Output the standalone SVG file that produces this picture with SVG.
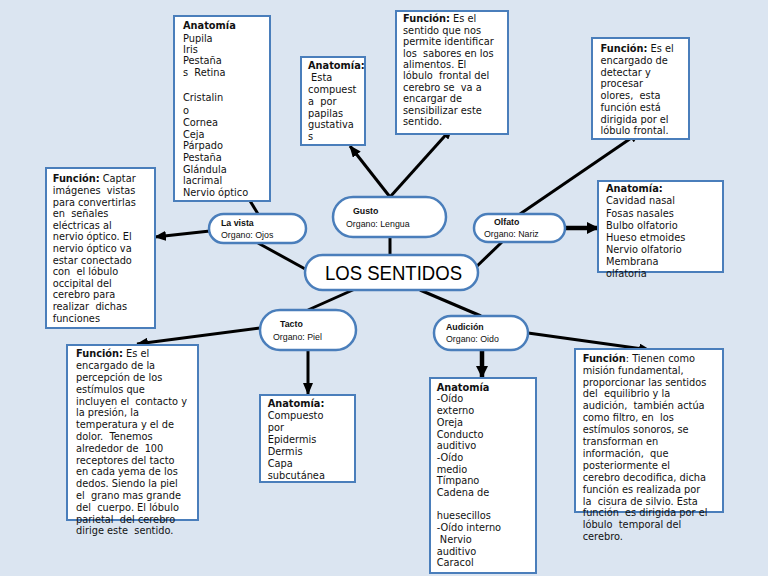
<svg xmlns="http://www.w3.org/2000/svg" width="768" height="576" viewBox="0 0 768 576" xml:space="preserve">
<style>
.bg{fill:#dbe5f1}
.box{fill:#ffffff;stroke:#4a7ebb;stroke-width:2}
.pill{fill:#ffffff;stroke:#4a7ebb;stroke-width:2.5}
.t{font-family:"DejaVu Sans",Verdana,sans-serif;font-size:9.8px;fill:#111;white-space:pre}
.b{font-weight:bold}
.pt{font-family:"Liberation Sans",Arial,sans-serif;font-size:8.8px;fill:#111}
.pb{font-family:"Liberation Sans",Arial,sans-serif;font-size:8.8px;font-weight:bold;fill:#111}
.c{stroke:#000;stroke-width:3;fill:none}
.ck{stroke:#000;stroke-width:4.5;fill:none}
</style>
<defs>
<marker id="ah" markerUnits="userSpaceOnUse" markerWidth="12" markerHeight="10" refX="11" refY="5" orient="auto">
<path d="M0,0 L12,5 L0,10 Z" fill="#000"/>
</marker>
<marker id="ahk" markerUnits="userSpaceOnUse" markerWidth="12" markerHeight="12" refX="11" refY="6" orient="auto">
<path d="M0,0 L12,6 L0,12 Z" fill="#000"/>
</marker>
</defs>
<rect class="bg" x="0" y="0" width="768" height="576"/>
<g id="connectors">
<line class="c" x1="258" y1="243" x2="307" y2="270"/>
<line class="c" x1="258" y1="214" x2="225" y2="160" marker-end="url(#ah)"/>
<line class="c" x1="210" y1="231" x2="155" y2="237" marker-end="url(#ah)"/>
<line class="c" x1="390" y1="236" x2="390" y2="255"/>
<line class="c" x1="390" y1="197" x2="350" y2="146" marker-end="url(#ah)"/>
<line class="c" x1="390" y1="197" x2="452" y2="128" marker-end="url(#ah)"/>
<line class="c" x1="474" y1="269" x2="502" y2="242"/>
<line class="c" x1="520" y1="214" x2="640" y2="132" marker-end="url(#ah)"/>
<line class="ck" x1="564" y1="228" x2="598" y2="228" marker-end="url(#ahk)"/>
<line class="c" x1="355" y1="289" x2="308" y2="310"/>
<line class="c" x1="260" y1="328" x2="137" y2="344" marker-end="url(#ah)"/>
<line class="c" x1="308" y1="351" x2="308" y2="394" marker-end="url(#ah)"/>
<line class="c" x1="420" y1="290" x2="481" y2="316"/>
<line class="ck" x1="482" y1="349" x2="482" y2="377" marker-end="url(#ahk)"/>
<line class="c" x1="528" y1="333" x2="650" y2="350" marker-end="url(#ah)"/>
</g>
<g id="vista-anatomia">
<rect class="box" x="174" y="16" width="96" height="185"/>
<text class="t"><tspan class="b" x="183" y="29">Anatomía</tspan><tspan x="183" y="41.7">Pupila</tspan><tspan x="183" y="52.9">Iris</tspan><tspan x="183" y="64.3">Pestaña</tspan><tspan x="183" y="76">s  Retina</tspan><tspan x="183" y="100.7">Cristalin</tspan><tspan x="183" y="113.5">o</tspan><tspan x="183" y="126">Cornea</tspan><tspan x="183" y="137.7">Ceja</tspan><tspan x="183" y="149.2">Párpado</tspan><tspan x="183" y="161">Pestaña</tspan><tspan x="183" y="172.7">Glándula</tspan><tspan x="183" y="184.3">lacrimal</tspan><tspan x="183" y="196">Nervio óptico</tspan></text>
</g>
<g id="gusto-anatomia">
<rect class="box" x="301" y="57" width="64" height="88"/>
<text class="t"><tspan class="b" x="308" y="68.7">Anatomía:</tspan><tspan x="308" y="81.2"> Esta</tspan><tspan x="308" y="93">compuest</tspan><tspan x="308" y="105">a  por</tspan><tspan x="308" y="116.7">papilas</tspan><tspan x="308" y="128.3">gustativa</tspan><tspan x="308" y="140">s</tspan></text>
</g>
<g id="gusto-funcion">
<rect class="box" x="396" y="11" width="112" height="123"/>
<text class="t"><tspan x="403" y="22.3"><tspan class="b">Función:</tspan> Es el</tspan><tspan x="403" y="33.7">sentido que nos</tspan><tspan x="403" y="45.1">permite identificar</tspan><tspan x="403" y="56.5">los  sabores en los</tspan><tspan x="403" y="67.9">alimentos. El</tspan><tspan x="403" y="79.3">lóbulo  frontal del</tspan><tspan x="403" y="90.7">cerebro se  va a</tspan><tspan x="403" y="102.1">encargar de</tspan><tspan x="403" y="113.5">sensibilizar este</tspan><tspan x="403" y="124.9">sentido.</tspan></text>
</g>
<g id="olfato-funcion">
<rect class="box" x="592" y="38" width="97" height="101"/>
<text class="t"><tspan x="600.5" y="52.3"><tspan class="b">Función:</tspan> Es el</tspan><tspan x="600.5" y="64">encargado de</tspan><tspan x="600.5" y="75.7">detectar y</tspan><tspan x="600.5" y="87.4">procesar</tspan><tspan x="600.5" y="99.1">olores,  esta</tspan><tspan x="600.5" y="110.8">función está</tspan><tspan x="600.5" y="122.5">dirigida por el</tspan><tspan x="600.5" y="134.2">lóbulo frontal.</tspan></text>
</g>
<g id="vista-funcion">
<rect class="box" x="46" y="168" width="109" height="160"/>
<text class="t"><tspan x="52.7" y="182.3"><tspan class="b">Función:</tspan> Captar</tspan><tspan x="52.7" y="193.9">imágenes  vistas</tspan><tspan x="52.7" y="205.5">para convertirlas</tspan><tspan x="52.7" y="217.1">en  señales</tspan><tspan x="52.7" y="228.7">eléctricas al</tspan><tspan x="52.7" y="240.3">nervio óptico. El</tspan><tspan x="52.7" y="251.9">nervio óptico va</tspan><tspan x="52.7" y="263.5">estar conectado</tspan><tspan x="52.7" y="275.1">con  el lóbulo</tspan><tspan x="52.7" y="286.7">occipital del</tspan><tspan x="52.7" y="298.3">cerebro para</tspan><tspan x="52.7" y="309.9">realizar  dichas</tspan><tspan x="52.7" y="321.5">funciones</tspan></text>
</g>
<g id="olfato-anatomia">
<rect class="box" x="598" y="181" width="125" height="91"/>
<text class="t"><tspan class="b" x="606" y="192.3">Anatomía:</tspan><tspan x="606" y="204.4">Cavidad nasal</tspan><tspan x="606" y="216.5">Fosas nasales</tspan><tspan x="606" y="228.6">Bulbo olfatorio</tspan><tspan x="606" y="240.7">Hueso etmoides</tspan><tspan x="606" y="252.8">Nervio olfatorio</tspan><tspan x="606" y="264.9">Membrana</tspan><tspan x="606" y="277">olfatoria</tspan></text>
</g>
<g id="tacto-funcion">
<rect class="box" x="67" y="345" width="131" height="175"/>
<text class="t"><tspan x="76" y="357.3"><tspan class="b">Función:</tspan> Es el</tspan><tspan x="76" y="369.1">encargado de la</tspan><tspan x="76" y="380.9">percepción de los</tspan><tspan x="76" y="392.7">estímulos que</tspan><tspan x="76" y="404.5">incluyen el  contacto y</tspan><tspan x="76" y="416.3">la presión, la</tspan><tspan x="76" y="428.1">temperatura y el de</tspan><tspan x="76" y="439.9">dolor.  Tenemos</tspan><tspan x="76" y="451.7">alrededor de  100</tspan><tspan x="76" y="463.5">receptores del tacto</tspan><tspan x="76" y="475.3">en cada yema de los</tspan><tspan x="76" y="487.1">dedos. Siendo la piel</tspan><tspan x="76" y="498.9">el  grano mas grande</tspan><tspan x="76" y="510.7">del  cuerpo. El lóbulo</tspan><tspan x="76" y="522.5">parietal  del cerebro</tspan><tspan x="76" y="534.3">dirige este  sentido.</tspan></text>
</g>
<g id="tacto-anatomia">
<rect class="box" x="260" y="395" width="95" height="87"/>
<text class="t"><tspan class="b" x="267.7" y="407.3">Anatomía:</tspan><tspan x="267.7" y="419.3">Compuesto</tspan><tspan x="267.7" y="431.3">por</tspan><tspan x="267.7" y="443.3">Epidermis</tspan><tspan x="267.7" y="455.3">Dermis</tspan><tspan x="267.7" y="467.3">Capa</tspan><tspan x="267.7" y="479.3">subcutánea</tspan></text>
</g>
<g id="audicion-anatomia">
<rect class="box" x="430" y="378" width="106" height="195"/>
<text class="t"><tspan class="b" x="436.7" y="390.7">Anatomía</tspan><tspan x="436.7" y="402.4">-Oído</tspan><tspan x="436.7" y="414.1">externo</tspan><tspan x="436.7" y="425.8">Oreja</tspan><tspan x="436.7" y="437.5">Conducto</tspan><tspan x="436.7" y="449.2">auditivo</tspan><tspan x="436.7" y="460.9">-Oído</tspan><tspan x="436.7" y="472.6">medio</tspan><tspan x="436.7" y="484.3">Tímpano</tspan><tspan x="436.7" y="496">Cadena de</tspan><tspan x="436.7" y="519.4">huesecillos</tspan><tspan x="436.7" y="531.1">-Oído interno</tspan><tspan x="436.7" y="542.8"> Nervio</tspan><tspan x="436.7" y="554.5">auditivo</tspan><tspan x="436.7" y="566.2">Caracol</tspan></text>
</g>
<g id="audicion-funcion">
<rect class="box" x="575" y="349" width="148" height="163"/>
<text class="t"><tspan x="582.7" y="361.7"><tspan class="b">Función</tspan>: Tienen como</tspan><tspan x="582.7" y="373.6">misión fundamental,</tspan><tspan x="582.7" y="385.5">proporcionar las sentidos</tspan><tspan x="582.7" y="397.4">del  equilibrio y la</tspan><tspan x="582.7" y="409.3">audición,  también actúa</tspan><tspan x="582.7" y="421.2">como filtro, en  los</tspan><tspan x="582.7" y="433.1">estímulos sonoros, se</tspan><tspan x="582.7" y="445">transforman en</tspan><tspan x="582.7" y="456.9">información,  que</tspan><tspan x="582.7" y="468.8">posteriormente el</tspan><tspan x="582.7" y="480.7">cerebro decodifica, dicha</tspan><tspan x="582.7" y="492.6">función es realizada por</tspan><tspan x="582.7" y="504.5">la  cisura de silvio. Esta</tspan><tspan x="582.7" y="516.4">función  es dirigida por el</tspan><tspan x="582.7" y="528.3">lóbulo  temporal del</tspan><tspan x="582.7" y="540.2">cerebro.</tspan></text>
</g>
<g id="la-vista">
<rect class="pill" x="209" y="214" width="97" height="29" rx="14.5"/>
<text class="pb" x="221" y="226">La vista</text>
<text class="pt" x="221" y="238">Organo: Ojos</text>
</g>
<g id="gusto">
<rect class="pill" x="333" y="197" width="113" height="40" rx="20"/>
<text class="pb" x="353" y="214">Gusto</text>
<text class="pt" x="346" y="226.5">Organo: Lengua</text>
</g>
<g id="olfato">
<rect class="pill" x="474" y="214" width="91" height="28" rx="14"/>
<text class="pb" x="494" y="225">Olfato</text>
<text class="pt" x="484" y="237">Organo: Nariz</text>
</g>
<g id="los-sentidos">
<rect class="pill" x="305" y="255" width="173" height="35" rx="17.5"/>
<text x="393.5" y="280" text-anchor="middle" font-family="'Liberation Sans',Arial,sans-serif" font-size="20.5" fill="#000" textLength="137" lengthAdjust="spacingAndGlyphs">LOS SENTIDOS</text>
</g>
<g id="tacto">
<rect class="pill" x="260" y="310" width="96" height="40" rx="20"/>
<text class="pb" x="280" y="327">Tacto</text>
<text class="pt" x="273" y="339.5">Organo: Piel</text>
</g>
<g id="audicion">
<rect class="pill" x="434" y="316" width="94" height="34" rx="17"/>
<text class="pb" x="446" y="330">Audición</text>
<text class="pt" x="446" y="342">Organo: Oido</text>
</g>
</svg>
